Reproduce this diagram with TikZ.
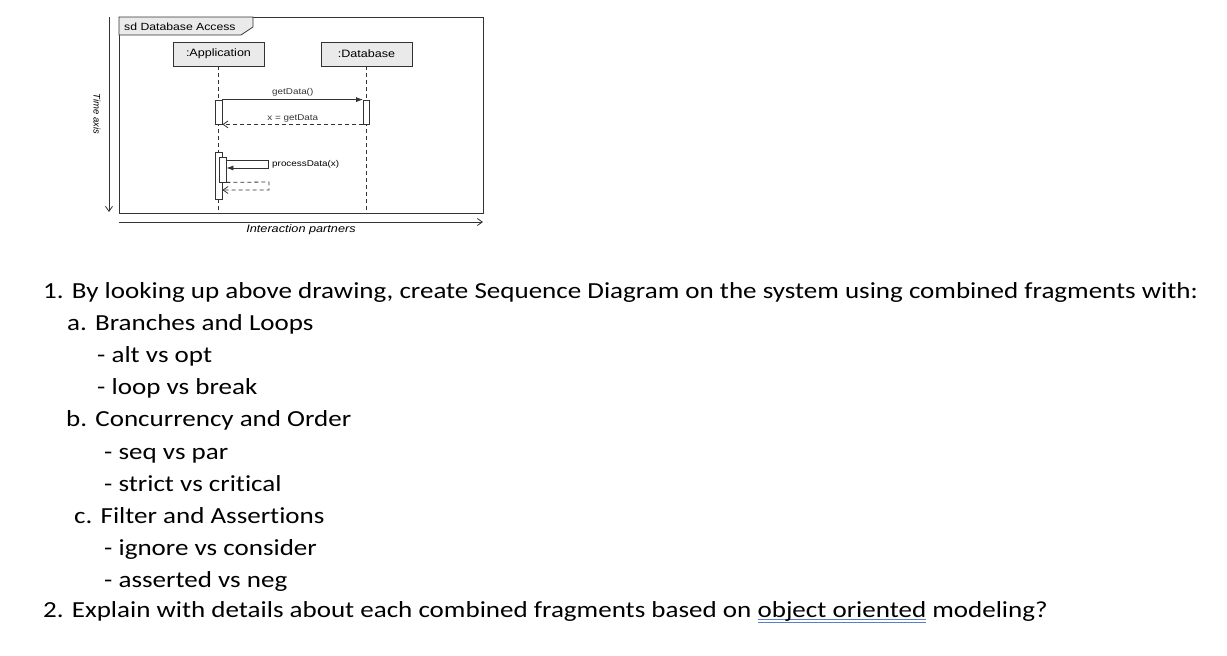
\documentclass[tikz,border=0pt]{standalone}
\usepackage{fontspec}
\setmainfont{Carlito}[Ligatures={NoCommon}]
\newfontfamily\umlfont{Liberation Sans}
\usepackage{tikz}
\usetikzlibrary{calc, positioning}
\usetikzlibrary{shapes, arrows, arrows.meta}
\definecolor{umlgray}{HTML}{EAEAEA}
\definecolor{umlline}{HTML}{333333}
\definecolor{spellblue}{HTML}{5B7FC7}
\tikzset{
    lifebox/.style = {rectangle, draw=umlline, fill=umlgray, line width=0.8pt, minimum width=91pt, minimum height=24pt, inner sep=0pt, text height=8pt, text depth=2pt, font=\umlfont\fontsize{10.7}{12}\selectfont},
    actbox/.style = {rectangle, draw=umlline, fill=white, line width=0.8pt, minimum width=7pt, inner sep=0pt},
    lifeline/.style = {dashed, dash pattern=on 4pt off 3pt, umlline, line width=0.8pt},
    syncmsg/.style = {umlline, line width=0.8pt, -{Latex[length=7pt,width=5pt]}},
    replymsg/.style = {umlline, line width=0.8pt, dash pattern=on 4pt off 3pt, -{Straight Barb[length=5pt,width=7pt]}},
    msglabel/.style = {font=\umlfont\fontsize{8.4}{10}\selectfont, inner sep=0pt, xscale=1.175},
    axisline/.style = {umlline, line width=0.8pt, -{Straight Barb[length=5pt,width=7pt]}},
    axislabel/.style = {font=\umlfont\itshape\fontsize{10.8}{12}\selectfont, inner sep=0pt},
    qline/.style = {anchor=base west, inner sep=0pt, xscale=1.175, font=\fontsize{23}{28}\selectfont},
}
% blue double underline of the spell checker
\newcommand{\spellmark}[1]{\setbox0\hbox{#1}\rlap{\color{spellblue}\raisebox{-3pt}{\rule{\wd0}{0.6pt}}}\rlap{\color{spellblue}\raisebox{-5.5pt}{\rule{\wd0}{0.6pt}}}\box0\relax}

\begin{document}
\begin{tikzpicture}[x=1pt, y=-1pt]
    \useasboundingbox (0,0) rectangle (1227,656);

    % frame of the interaction
    \draw[umlline, line width=0.8pt] (119,17) rectangle (483,213);
    \draw[umlline, line width=0.8pt, fill=umlgray] (119,17) -- (253,17) -- (253,27) -- (241,35) -- (119,35) -- cycle;
    \node[anchor=base west, inner sep=0pt, xscale=1.175, font=\umlfont\fontsize{10.4}{12}\selectfont] (sdname) at (124,30) {sd Database Access};

    % interaction partners
    \node[lifebox, label={[xscale=1.175, inner sep=0pt, font=\umlfont\fontsize{10.7}{12}\selectfont]center::Application}] (app) at (218.5,54) {};
    \node[lifebox, label={[xscale=1.175, inner sep=0pt, font=\umlfont\fontsize{10.7}{12}\selectfont]center::Database}] (db) at (366.5,54) {};
    \coordinate (appEnd) at (218.5,213);
    \coordinate (dbEnd) at (366.5,213);
    \draw[lifeline] (app.south) -- (appEnd);
    \draw[lifeline] (db.south) -- (dbEnd);

    % activations
    \node[actbox, minimum height=24pt] (actA) at (218.5,112) {};
    \node[actbox, minimum width=6pt, minimum height=24pt] (actD) at (366.5,112) {};
    \node[actbox, minimum height=47pt] (actB) at (218.5,175.5) {};
    \node[actbox, minimum height=25pt] (actC) at (222.5,169.5) {};

    % messages
    \draw[syncmsg] (actA.north east) -- node[msglabel, above=2.5pt] {getData()} (actD.north west);
    \draw[replymsg] (actD.south west) -- node[msglabel, above=2pt] {x = getData} (actA.south east);

    \coordinate (selfA) at (268,160);
    \coordinate (selfB) at (268,168);
    \draw[syncmsg] (actC.east |- selfA) -- (selfA) -- (selfB) -- (actC.east |- selfB);
    \node[msglabel, anchor=west] (proc) at (272,164) {processData(x)};

    \coordinate (backA) at (269,182);
    \coordinate (backB) at (269,190);
    \draw[replymsg] (actC.south east) -- (backA) -- (backB) -- (actB.east |- backB);

    % axes
    \coordinate (timeTop) at (109,17);
    \coordinate (timeEnd) at (109,212);
    \draw[axisline] (timeTop) -- (timeEnd);
    \node[axislabel, rotate=-90, font=\umlfont\itshape\fontsize{9.5}{10}\selectfont] (timelabel) at (97,114) {Time axis};
    \coordinate (partLeft) at (119,222);
    \coordinate (partEnd) at (483,222);
    \draw[axisline] (partLeft) -- (partEnd);
    \node[axislabel, xscale=1.175] (partlabel) at (301,230) {Interaction partners};

    % task text
    \node[qline] (q1) at (43,298) {1. By looking up above drawing, create Sequence Diagram on the system using combined fragments with:};
    \node[qline] (qa) at (67,330.5) {a. Branches and Loops};
    \node[qline] (qa1) at (97,362.5) {- alt vs opt};
    \node[qline] (qa2) at (97,394.5) {- loop vs break};
    \node[qline] (qb) at (66,426.5) {b. Concurrency and Order};
    \node[qline] (qb1) at (104,459) {- seq vs par};
    \node[qline] (qb2) at (104,491) {- strict vs critical};
    \node[qline] (qc) at (74,523) {c. Filter and Assertions};
    \node[qline] (qc1) at (104,555) {- ignore vs consider};
    \node[qline] (qc2) at (104,587) {- asserted vs neg};
    \node[qline] (q2) at (43,617) {2. Explain with details about each combined fragments based on \spellmark{object oriented} modeling?};
\end{tikzpicture}
\end{document}
